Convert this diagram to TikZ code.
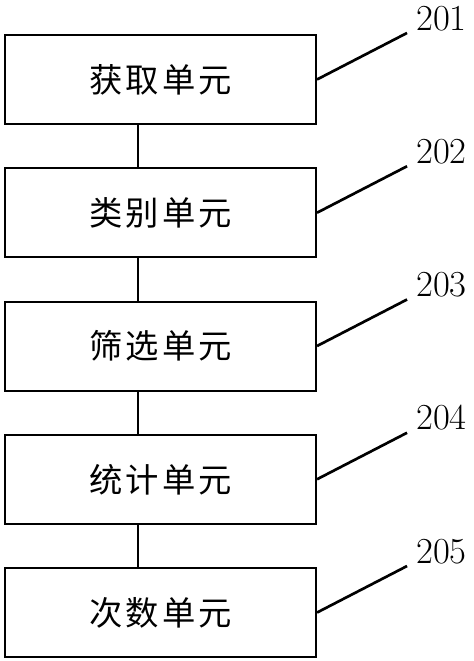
\documentclass[tikz,border=0pt]{standalone}
\usepackage{fontspec}
\newfontfamily\cjk[LetterSpace=9]{Noto Sans CJK SC}
\usepackage{tikz}
\usetikzlibrary{positioning}

\begin{document}
\begin{tikzpicture}[
				node distance=31.7pt,
				unit/.style={rectangle, draw, line width=1.5pt, minimum width=233.25pt, minimum height=66.75pt, font=\cjk\fontsize{25pt}{30pt}\selectfont},
				tag/.style={inner xsep=6.75pt, inner ysep=1.5pt, font=\fontsize{27.5pt}{32pt}\selectfont},
				link/.style={line width=1.3pt},
				leader/.style={line width=2pt}
				]
				\useasboundingbox (0,0) rectangle (355.5pt,-495.75pt);
				% 单元
				\node[unit] (u1) at (120.4pt,-59.6pt) {获取单元};
				\node[unit, below=of u1] (u2) {类别单元};
				\node[unit, below=of u2] (u3) {筛选单元};
				\node[unit, below=of u3] (u4) {统计单元};
				\node[unit, below=of u4] (u5) {次数单元};
				
				% 标号
				\node[tag, above right=0.75pt and 67.5pt of u1.north east] (n1) {201};
				\node[tag, above right=0.75pt and 67.5pt of u2.north east] (n2) {202};
				\node[tag, above right=0.75pt and 67.5pt of u3.north east] (n3) {203};
				\node[tag, above right=0.75pt and 67.5pt of u4.north east] (n4) {204};
				\node[tag, above right=0.75pt and 67.5pt of u5.north east] (n5) {205};
				
				% 连线
				\foreach \a/\b in {u1/u2, u2/u3, u3/u4, u4/u5}
					\draw[link] ([xshift=-16.9pt]\a.south) -- ([xshift=-16.9pt]\b.north);
				
				\foreach \i in {1,...,5}
					\draw[leader] (u\i.east) -- (n\i.south west);
				
			\end{tikzpicture}
\end{document}
